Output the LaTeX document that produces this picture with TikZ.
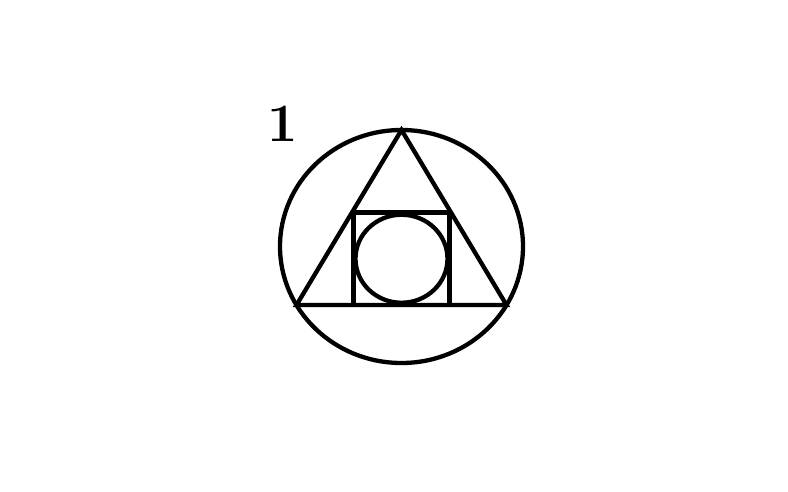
\documentclass[tikz,border=0pt]{standalone}
\usepackage{amsmath}
\usepackage{tikz}
\usetikzlibrary{calc}

\begin{document}
\begin{tikzpicture}[x=1pt,y=-1pt]
                \tikzset{figline/.style={line width=4.3pt, black, line join=miter}}
                % Page frame
                \fill[white] (0,0) rectangle (788,492);
                \useasboundingbox (0,0) rectangle (788,492);
                
                % Centre of the outer circle
                \coordinate (O) at (401.5,246.5);
                
                % Triangle vertices
                \coordinate (T) at (401.5,130);
                \coordinate (L) at (296.5,305);
                \coordinate (R) at (506.5,305);
                
                % Square vertices
                \coordinate (SA) at (353.5,305);
                \coordinate (SB) at (449.5,305);
                \coordinate (SC) at (449.5,212.5);
                \coordinate (SD) at (353.5,212.5);
                
                % Centre of the inner circle
                \coordinate (I) at ($(SA)!0.5!(SC)$);
                
                % Outer circle
                \draw[figline] (O) ellipse [x radius=121.5pt, y radius=116.5pt];
                
                % Triangle
                \draw[figline] (T) -- (L) -- (R) -- cycle;
                
                % Square
                \draw[figline] (SA) -- (SB) -- (SC) -- (SD) -- cycle;
                
                % Inner circle
                \draw[figline] (I) ellipse [x radius=46pt, y radius=44pt];
                
                % Number
                \node[anchor=base, inner sep=0pt, font=\fontsize{54}{60}\selectfont\bfseries] (num) at (283,142) {1};
            \end{tikzpicture}
\end{document}
